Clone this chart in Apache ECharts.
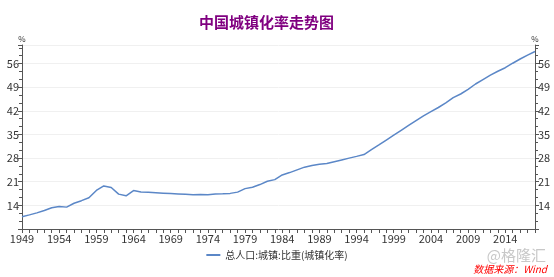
<!DOCTYPE html>
<html>
<head>
<meta charset="utf-8">
<script src="https://cdn.jsdelivr.net/npm/echarts@6/dist/echarts.min.js"></script>
<style>
  html, body { margin: 0; padding: 0; background: #fff; }
  #chart { width: 554px; height: 277px; }
</style>
</head>
<body>
<div id="chart"></div>
<script>
// 年份 1949-2018
const years = [];
for (let y = 1949; y <= 2018; y++) years.push(String(y));

// 城镇化率 (%)
const urbanRate = [
  10.64, 11.18, 11.78, 12.46, 13.31, 13.69, 13.48, 14.62, 15.39, 16.25,
  18.41, 19.75, 19.29, 17.33, 16.84, 18.37, 17.98, 17.86, 17.74, 17.62,
  17.50, 17.38, 17.26, 17.13, 17.20, 17.16, 17.34, 17.44, 17.55, 17.92,
  18.96, 19.39, 20.16, 21.13, 21.62, 23.01, 23.71, 24.52, 25.32, 25.81,
  26.21, 26.41, 26.94, 27.46, 27.99, 28.51, 29.04, 30.48, 31.91, 33.35,
  34.78, 36.22, 37.66, 39.09, 40.53, 41.76, 42.99, 44.34, 45.89, 46.99,
  48.34, 49.95, 51.27, 52.57, 53.73, 54.77, 56.10, 57.35, 58.52, 59.58
];

const seriesName = '总人口:城镇:比重(城镇化率)';
const font = '"Noto Sans CJK SC", "Noto Sans", sans-serif';
const axisColor = '#555';

const chart = echarts.init(document.getElementById('chart'));

const yAxisBase = {
  type: 'value',
  min: 7,
  max: 61.5,
  interval: 7,
  name: '%',
  nameGap: 2,
  nameTextStyle: { fontSize: 8, color: '#333', fontFamily: font },
  axisLine: { show: true, lineStyle: { color: axisColor, width: 1 } },
  axisTick: { show: true, length: 4, lineStyle: { color: axisColor } },
  minorTick: { show: true, splitNumber: 3, length: 3, lineStyle: { color: axisColor } },
  axisLabel: { showMinLabel: false, showMaxLabel: false, fontSize: 11, color: '#333', margin: 3, fontFamily: font },
  splitLine: { show: true, lineStyle: { color: '#f0f0f0', width: 1 } }
};

const option = {
  animation: false,
  title: {
    text: '中国城镇化率走势图',
    left: 194,
    top: 10,
    textStyle: { color: '#800080', fontSize: 15, fontWeight: 'bold', fontFamily: font }
  },
  grid: { left: 22, right: 19, top: 45, bottom: 48, containLabel: false },
  legend: {
    bottom: 12,
    left: 'center',
    itemWidth: 14,
    itemHeight: 2,
    itemGap: 4,
    icon: 'rect',
    textStyle: { fontSize: 10, color: '#333', fontFamily: font },
    data: [seriesName]
  },
  xAxis: {
    type: 'category',
    data: years,
    boundaryGap: false,
    axisLine: { lineStyle: { color: axisColor, width: 1 } },
    axisTick: { interval: 0, length: 4, lineStyle: { color: axisColor } },
    axisLabel: { interval: 4, fontSize: 11, color: '#333', margin: 4, fontFamily: font },
    splitLine: { show: false }
  },
  yAxis: [
    Object.assign({}, yAxisBase, { position: 'left' }),
    Object.assign({}, yAxisBase, { position: 'right', splitLine: { show: false } })
  ],
  series: [{
    name: seriesName,
    type: 'line',
    data: urbanRate,
    showSymbol: false,
    symbol: 'none',
    lineStyle: { color: '#5b87c7', width: 1.5 },
    itemStyle: { color: '#5b87c7' }
  }],
  graphic: [
    {
      type: 'text',
      right: 8,
      top: 248,
      style: { text: '@格隆汇', fontSize: 15, fill: '#c8c8c8', fontFamily: font }
    },
    {
      type: 'text',
      right: 7,
      top: 264,
      style: { text: '数据来源：Wind', fontSize: 10, fill: '#ff0000', fontStyle: 'italic', fontFamily: font }
    }
  ]
};

chart.setOption(option);
</script>
</body>
</html>
